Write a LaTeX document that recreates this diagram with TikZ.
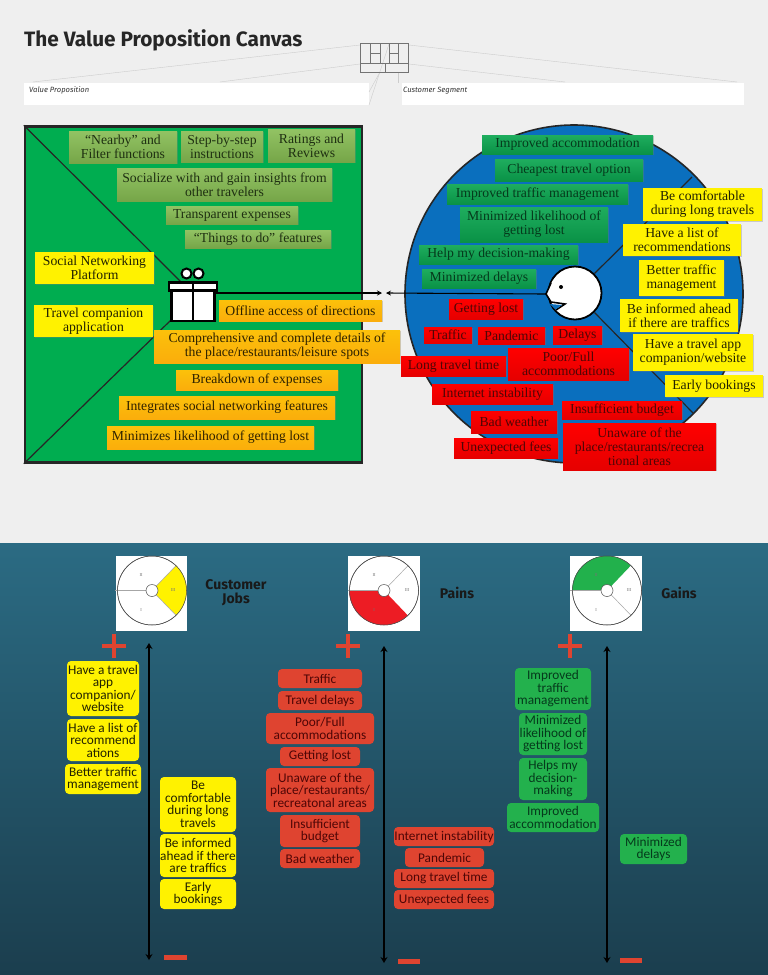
\documentclass[tikz,border=0pt]{standalone}
\usepackage{fontspec}
\setmainfont{Liberation Serif}
\newfontfamily\roundfont{Carlito}
\newfontfamily\titlefont{Fira Sans}
\usetikzlibrary{shadows,arrows.meta}
\definecolor{pagegray}{HTML}{EFEFEF}
\definecolor{tealtop}{HTML}{2B6B83}
\definecolor{tealbot}{HTML}{1B3E4E}
\definecolor{canvasgreen}{HTML}{00AD50}
\definecolor{canvasblue}{HTML}{0A6FBE}
\definecolor{leafgreen}{HTML}{86BC52}
\definecolor{amber}{HTML}{FBB60C}
\definecolor{gainbox}{HTML}{0BA650}
\definecolor{painround}{HTML}{DF4430}
\definecolor{gainround}{HTML}{23B14D}
\definecolor{wheelred}{HTML}{ED1C24}
\definecolor{wheelgreen}{HTML}{22B14C}
\definecolor{darkleaf}{HTML}{1F3012}
\definecolor{darkamber}{HTML}{2E2200}
\definecolor{darkgain}{HTML}{053A1C}
\definecolor{darkpain}{HTML}{4E0606}
\definecolor{darkjob}{HTML}{222200}
\tikzset{
  glossy/.style={rectangle, inner sep=0pt, align=center, font=\fontsize{13.7}{14.2}\selectfont,
    drop shadow={opacity=0.35, shadow xshift=1pt, shadow yshift=-1pt}},
  fitbox/.style={glossy, top color=leafgreen!90!white, bottom color=leafgreen!88!black, text=darkleaf},
  doerbox/.style={glossy, fill=yellow, text=darkjob},
  amberbox/.style={glossy, top color=amber!85!yellow, bottom color=amber!95!red, text=darkamber},
  gainrect/.style={glossy, top color=gainbox!92!white, bottom color=gainbox!88!black, text=darkgain},
  painrect/.style={glossy, top color=red, bottom color=red!90!black, text=darkpain},
  tile/.style={rectangle, rounded corners=4pt, inner sep=0pt, align=center,
    font=\roundfont\fontsize{13.3}{12.5}\selectfont},
  jobtile/.style={tile, fill=yellow, text=darkjob},
  paintile/.style={tile, fill=painround, text=darkpain},
  gaintile/.style={tile, fill=gainround, text=darkgain},
  headlabel/.style={inner sep=0pt, align=center, text=black!90, font=\titlefont\bfseries\fontsize{14}{14}\selectfont},
  schema/.style={draw=black!55, line width=0.4pt},
  wheelrim/.style={circle, draw=black!70, line width=0.5pt, inner sep=0pt, minimum size=69pt},
  wheelhub/.style={circle, draw=black!70, fill=white, line width=0.5pt, inner sep=0pt, minimum size=12pt},
  wheelspoke/.style={draw=black!35, line width=0.5pt},
  wheelmark/.style={inner sep=0pt, text=black!55, font=\fontsize{4.5}{5}\selectfont},
  plusmark/.style={painround, line width=3.6pt},
  scalearrow/.style={{Stealth[length=6pt,width=7pt]}-{Stealth[length=6pt,width=7pt]}, black, line width=1.4pt},
}
\begin{document}
\begin{tikzpicture}[x=1pt, y=-1pt]
  \useasboundingbox (0,0) rectangle (768,975);
  % background
  \fill[pagegray] (0,0) rectangle (768,543);
  \shade[top color=tealtop, bottom color=tealbot] (0,543) rectangle (768,975);

  % title and schema
  \node[inner sep=0pt, anchor=west, font=\titlefont\bfseries\fontsize{20.8}{21}\selectfont, text=black!85] (title) at (24,40) {The Value Proposition Canvas};
  \draw[black!20] (360,45) -- (33,82);
  \draw[black!20] (360,64) -- (220,82);
  \draw[black!20] (409,45) -- (737,82);
  \draw[black!20] (409,64) -- (565,82);
  \fill[white] (24,83) rectangle (369,105);
  \fill[white] (402,83) rectangle (744,105);
  \draw[black!20] (389,44) -- (369,105);
  \draw[black!20] (380,72) -- (369,92);
  \draw[black!20] (398,72) -- (398,83);
  \node[inner sep=0pt, anchor=west, font=\titlefont\itshape\fontsize{7.6}{8}\selectfont, text=black!80] (valuelabel) at (29,90.5) {Value Proposition};
  \node[inner sep=0pt, anchor=west, font=\titlefont\itshape\fontsize{7.6}{8}\selectfont, text=black!80] (segmentlabel) at (403,90.5) {Customer Segment};
  \draw[schema, line width=0.6pt] (360,43) rectangle (408,72);
  \draw[schema] (360,63) -- (408,63);
  \draw[schema] (370,43) -- (370,63);
  \draw[schema] (380,43) -- (380,63);
  \draw[schema] (389,43) -- (389,63);
  \draw[schema] (398,43) -- (398,63);
  \draw[schema] (370,53) -- (380,53);
  \draw[schema] (389,53) -- (398,53);
  \draw[schema] (385,63) -- (385,72);

  % value map
  \node[draw=black!85, line width=2.4pt, fill=canvasgreen, inner sep=0pt, minimum width=337pt, minimum height=336pt] (square) at (193.5,294.5) {};
  \coordinate (squareTL) at (square.north west);
  \coordinate (squareBL) at (square.south west);
  \coordinate (lidA) at (181,282);
  \coordinate (lidB) at (171,320);
  \draw[black!85, line width=1.2pt] (squareTL) -- (lidA);
  \draw[black!85, line width=1.2pt] (squareBL) -- (lidB);

  % gift
  \node[circle, draw=black, fill=white, line width=2pt, inner sep=0pt, minimum size=10pt] (bowA) at (186.5,273.5) {};
  \node[circle, draw=black, fill=white, line width=2pt, inner sep=0pt, minimum size=10pt] (bowB) at (198.5,273.5) {};
  \node[draw=black, fill=white, line width=2.2pt, inner sep=0pt, minimum width=43pt, minimum height=30pt] (giftbody) at (193,306) {};
  \node[draw=black, fill=white, line width=2.2pt, inner sep=0pt, minimum width=48pt, minimum height=8pt] (giftlid) at (193,286.5) {};
  \draw[black, line width=2.2pt] (giftlid.north) -- (giftbody.south);

  % customer profile
  \node[circle, draw=black!85, line width=1.6pt, fill=canvasblue, inner sep=0pt, minimum size=338pt] (profile) at (574,294) {};
  \node[circle, draw=black, fill=white, line width=1.8pt, inner sep=0pt, minimum size=53pt] (face) at (575,293) {};
  \coordinate (noseTip) at (546,294);
  \fill[white] (553,280) -- (noseTip) -- (552,303) -- (558,300) -- cycle;
  \draw[black, line width=1.6pt] (551,283) -- (noseTip) -- (551,302) -- (565,304) -- (556,310);
  \fill[canvasblue] (550,304) -- (562,305) -- (555.5,309.5) -- cycle;
  \fill[black] (561,287) circle (2);
  \coordinate (spokeUp) at (692,177);
  \coordinate (spokeDown) at (693,413);
  \draw[black!85, line width=1.2pt] (face.45) -- (spokeUp);
  \draw[black!85, line width=1.2pt] (face.-45) -- (spokeDown);

  % link between the two
  \coordinate (gapA) at (382,293);
  \coordinate (gapB) at (386,293);
  \draw[-{Stealth[length=5pt,width=5pt]}, black, line width=1.1pt] (giftbody.east |- gapA) -- (gapA);
  \draw[-{Stealth[length=5pt,width=5pt]}, black, line width=1.1pt] (noseTip) -- (gapB);

  % value map boxes
  \node[fitbox, minimum width=108pt, minimum height=32pt] (nearby) at (123,147) {``Nearby'' and\\Filter functions};
  \node[fitbox, minimum width=82pt, minimum height=31pt] (stepwise) at (222,146.5) {Step-by-step\\instructions};
  \node[fitbox, minimum width=87pt, minimum height=33pt] (ratings) at (311.5,145.5) {Ratings and\\Reviews};
  \node[fitbox, minimum width=215pt, minimum height=33pt] (socialize) at (224.5,184.5) {Socialize with and gain insights from\\other travelers};
  \node[fitbox, minimum width=132pt, minimum height=18pt] (transparent) at (232,215) {Transparent expenses};
  \node[fitbox, minimum width=146pt, minimum height=18pt] (thingstodo) at (258,239) {``Things to do'' features};
  \node[doerbox, minimum width=119pt, minimum height=32pt] (networking) at (94.5,268) {Social Networking\\Platform};
  \node[doerbox, minimum width=119pt, minimum height=32pt] (companion) at (93.5,321) {Travel companion\\application};
  \node[amberbox, minimum width=163pt, minimum height=21pt] (offline) at (300.5,310.5) {Offline access of directions};
  \node[amberbox, minimum width=246pt, minimum height=33pt] (details) at (277,346.5) {Comprehensive and complete details of\\the place/restaurants/leisure spots};
  \node[amberbox, minimum width=162pt, minimum height=20pt] (breakdown) at (257,380) {Breakdown of expenses};
  \node[amberbox, minimum width=216pt, minimum height=23pt] (integrates) at (227,407.5) {Integrates social networking features};
  \node[amberbox, minimum width=207pt, minimum height=23pt] (minimizes) at (210.5,437.5) {Minimizes likelihood of getting lost};

  % gains
  \node[gainrect, minimum width=171pt, minimum height=19pt] (accomm) at (567.5,144.5) {Improved accommodation};
  \node[gainrect, minimum width=148pt, minimum height=22pt] (cheapest) at (569,170) {Cheapest travel option};
  \node[gainrect, minimum width=181pt, minimum height=20pt] (trafficmgmt) at (537.5,194) {Improved traffic management};
  \node[gainrect, minimum width=148pt, minimum height=35pt] (likelihood) at (534,224.5) {Minimized likelihood of\\getting lost};
  \node[gainrect, minimum width=159pt, minimum height=19pt] (decision) at (498.5,254.5) {Help my decision-making};
  \node[gainrect, minimum width=114pt, minimum height=19pt] (mindelays) at (479,278.5) {Minimized delays};

  % customer jobs
  \node[doerbox, minimum width=119pt, minimum height=33pt] (comfortable) at (702.5,204.5) {Be comfortable\\during long travels};
  \node[doerbox, minimum width=118pt, minimum height=32pt] (recommend) at (682,240) {Have a list of\\recommendations};
  \node[doerbox, minimum width=85pt, minimum height=36pt] (bettertraffic) at (681.5,278) {Better traffic\\management};
  \node[doerbox, minimum width=118pt, minimum height=33pt] (informed) at (679,315.5) {Be informed ahead\\if there are traffics};
  \node[doerbox, minimum width=120pt, minimum height=37pt] (travelapp) at (693,352.5) {Have a travel app\\companion/website};
  \node[doerbox, minimum width=98pt, minimum height=22pt] (early) at (714,386) {Early bookings};

  % pains
  \node[painrect, minimum width=74pt, minimum height=20pt] (lost) at (486,309) {Getting lost};
  \node[painrect, minimum width=48pt, minimum height=16pt] (traffic) at (448,335) {Traffic};
  \node[painrect, minimum width=67pt, minimum height=17pt] (pandemic) at (511.5,335.5) {Pandemic};
  \node[painrect, minimum width=49pt, minimum height=18pt] (delays) at (577.5,335) {Delays};
  \node[painrect, minimum width=105pt, minimum height=20pt] (longtime) at (453.5,366) {Long travel time};
  \node[painrect, minimum width=121pt, minimum height=32pt] (poor) at (568.5,364) {Poor/Full\\accommodations};
  \node[painrect, minimum width=121pt, minimum height=20pt] (instability) at (492.5,394) {Internet instability};
  \node[painrect, minimum width=86pt, minimum height=22pt] (weather) at (514,422) {Bad weather};
  \node[painrect, minimum width=120pt, minimum height=18pt] (budget) at (622,410) {Insufficient budget};
  \node[painrect, minimum width=104pt, minimum height=20pt] (fees) at (506,448) {Unexpected fees};
  \node[painrect, minimum width=153pt, minimum height=47pt] (unaware) at (639.5,446.5) {Unaware of the\\place/restaurants/recrea\\tional areas};

  % wheel for jobs
  \node[rectangle, fill=white, inner sep=0pt, minimum width=71pt, minimum height=75pt] (cardA) at (151,593.5) {};
  \node[wheelrim] (rimA) at (152,590.5) {};
  \fill[yellow] (rimA.center) -- (rimA.46) arc[start angle=-46, end angle=46, radius=34.5] -- cycle;
  \draw[wheelspoke] (cardA.west |- rimA.center) -- (rimA.center);
  \draw[wheelspoke] (rimA.center) -- (rimA.46);
  \draw[wheelspoke] (rimA.center) -- (rimA.-46);
  \node[wheelrim] (rimAtop) at (152,590.5) {};
  \node[wheelhub] (hubA) at (152,590.5) {};
  \node[wheelmark] (markAa) at (141,575) {II};
  \node[wheelmark] (markAb) at (141,610) {I};
  \node[wheelmark] (markAc) at (173,590) {III};
  \node[headlabel] (jobshead) at (236,593) {Customer\\Jobs};

  % wheel for pains
  \node[rectangle, fill=white, inner sep=0pt, minimum width=72pt, minimum height=75pt] (cardB) at (384,593.5) {};
  \node[wheelrim] (rimB) at (384,590.5) {};
  \fill[wheelred] (rimB.center) -- (rimB.180) arc[start angle=180, end angle=46, radius=34.5] -- cycle;
  \draw[wheelspoke] (cardB.west |- rimB.center) -- (rimB.center);
  \draw[wheelspoke] (rimB.center) -- (rimB.46);
  \node[wheelrim] (rimBtop) at (384,590.5) {};
  \node[wheelhub] (hubB) at (384,590.5) {};
  \node[wheelmark] (markBa) at (374,575) {II};
  \node[wheelmark] (markBb) at (374,610) {I};
  \node[wheelmark] (markBc) at (407,590) {III};
  \node[headlabel] (painshead) at (457,593) {Pains};

  % wheel for gains
  \node[rectangle, fill=white, inner sep=0pt, minimum width=72pt, minimum height=75pt] (cardC) at (606,593.5) {};
  \node[wheelrim] (rimC) at (607,590.5) {};
  \fill[wheelgreen] (rimC.center) -- (rimC.180) arc[start angle=180, end angle=314, radius=34.5] -- cycle;
  \draw[wheelspoke] (cardC.west |- rimC.center) -- (rimC.center);
  \draw[wheelspoke] (rimC.center) -- (rimC.-46);
  \node[wheelrim] (rimCtop) at (607,590.5) {};
  \node[wheelhub] (hubC) at (607,590.5) {};
  \node[wheelmark] (markCa) at (596,575) {II};
  \node[wheelmark] (markCb) at (596,610) {I};
  \node[wheelmark] (markCc) at (629,590) {III};
  \node[headlabel] (gainshead) at (679,593) {Gains};

  % scales
  \coordinate (topA) at (149,643);
  \coordinate (botA) at (149,960);
  \coordinate (topB) at (384,646);
  \coordinate (botB) at (384,963);
  \coordinate (topC) at (607,646);
  \coordinate (botC) at (607,963);
  \draw[scalearrow] (topA) -- (botA);
  \draw[scalearrow] (topB) -- (botB);
  \draw[scalearrow] (topC) -- (botC);
  \draw[plusmark] (102,646) -- (126,646);
  \draw[plusmark] (114,634) -- (114,658);
  \draw[plusmark] (336,646) -- (360,646);
  \draw[plusmark] (348,634) -- (348,658);
  \draw[plusmark] (558,646) -- (582,646);
  \draw[plusmark] (570,634) -- (570,658);
  \draw[painround, line width=5pt] (164,957) -- (187,957);
  \draw[painround, line width=5pt] (398,961) -- (420,961);
  \draw[painround, line width=5pt] (620,960) -- (642,960);

  % job tiles
  \node[jobtile, minimum width=72pt, minimum height=55pt] (tApp) at (103,688.5) {Have a travel\\app\\companion/\\website};
  \node[jobtile, minimum width=72pt, minimum height=42pt] (tList) at (103,740) {Have a list of\\recommend\\ations};
  \node[jobtile, minimum width=76pt, minimum height=30pt] (tBetter) at (103,779) {Better traffic\\management};
  \node[jobtile, minimum width=76pt, minimum height=55pt] (tComfort) at (198,804.5) {Be\\comfortable\\during long\\travels};
  \node[jobtile, minimum width=76pt, minimum height=43pt] (tInformed) at (198,855.5) {Be informed\\ahead if there\\are traffics};
  \node[jobtile, minimum width=76pt, minimum height=30pt] (tEarly) at (198,894) {Early\\bookings};

  % pain tiles
  \node[paintile, minimum width=84pt, minimum height=19pt] (tTraffic) at (320,678.5) {Traffic};
  \node[paintile, minimum width=84pt, minimum height=19pt] (tDelays) at (320,700.5) {Travel delays};
  \node[paintile, minimum width=108pt, minimum height=31pt] (tPoor) at (320,728.5) {Poor/Full\\accommodations};
  \node[paintile, minimum width=80pt, minimum height=19pt] (tLost) at (320,756.5) {Getting lost};
  \node[paintile, minimum width=108pt, minimum height=44pt] (tUnaware) at (320,790) {Unaware of the\\place/restaurants/\\recreatonal areas};
  \node[paintile, minimum width=80pt, minimum height=32pt] (tBudget) at (320,831) {Insufficient\\budget};
  \node[paintile, minimum width=80pt, minimum height=19pt] (tWeather) at (320,858.5) {Bad weather};
  \node[paintile, minimum width=100pt, minimum height=19pt] (tInternet) at (444,836.5) {Internet instability};
  \node[paintile, minimum width=79pt, minimum height=19pt] (tPandemic) at (444.5,857.5) {Pandemic};
  \node[paintile, minimum width=100pt, minimum height=19pt] (tLong) at (444,878.5) {Long travel time};
  \node[paintile, minimum width=100pt, minimum height=19pt] (tFees) at (444,899.5) {Unexpected fees};

  % gain tiles
  \node[gaintile, minimum width=76pt, minimum height=42pt] (tImproved) at (553,689) {Improved\\traffic\\management};
  \node[gaintile, minimum width=68pt, minimum height=42pt] (tLikely) at (553,734) {Minimized\\likelihood of\\getting lost};
  \node[gaintile, minimum width=68pt, minimum height=42pt] (tHelps) at (553,779) {Helps my\\decision-\\making};
  \node[gaintile, minimum width=92pt, minimum height=29pt] (tAccomm) at (553,817.5) {Improved\\accommodation};
  \node[gaintile, minimum width=67pt, minimum height=30pt] (tMinDelays) at (653.5,849) {Minimized\\delays};
\end{tikzpicture}
\end{document}
